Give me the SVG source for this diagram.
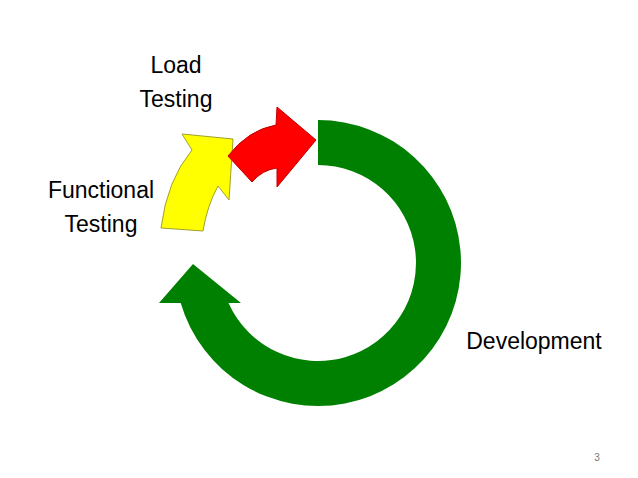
<svg xmlns="http://www.w3.org/2000/svg" width="638" height="478" viewBox="0 0 638 478">
<style>
text{font-family:"Liberation Sans",Arial,sans-serif;font-size:23px;fill:#000;text-anchor:middle}
</style>
<rect width="638" height="478" fill="#fff"/>
<g id="connectors"></g>
<g id="development">
<path d="M318,120 A143,143 0 1 1 180.7,303 L159,303 L193,264 L241,303 L228.5,303 A98,98 0 1 0 318,165 Z" fill="#008000"/>
<text x="534" y="349">Development</text>
</g>
<g id="functional">
<path d="M161,228 Q167,180 192,150 L182,134 L233,139 L229,200 L218,186 Q207,206 203,231 Z" fill="#ffff00" stroke="#a0a030" stroke-width="1"/>
<text x="101" y="198">Functional</text>
<text x="101" y="232">Testing</text>
</g>
<g id="load">
<path d="M228,156 Q248,130 276,125 L277,107 L316,140 L277,187 L277,168 Q262,170 252,182 Z" fill="#ff0000" stroke="#c00000" stroke-width="1"/>
<text x="176" y="73">Load</text>
<text x="176" y="107">Testing</text>
</g>
<text x="597" y="461" style="font-size:10px;fill:#777">3</text>
</svg>
